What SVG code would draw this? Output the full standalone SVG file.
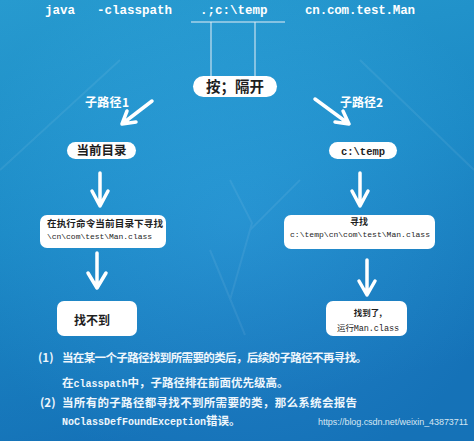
<svg xmlns="http://www.w3.org/2000/svg" width="474" height="441" viewBox="0 0 474 441">
<defs>
<linearGradient id="bg" x1="0" y1="0" x2="0.25" y2="1">
<stop offset="0" stop-color="#29a4dc"/>
<stop offset="0.5" stop-color="#1d92d2"/>
<stop offset="1" stop-color="#1679c3"/>
</linearGradient>
<radialGradient id="glow" cx="0.5" cy="0.5" r="0.6">
<stop offset="0" stop-color="#ffffff" stop-opacity="0.05"/>
<stop offset="1" stop-color="#000000" stop-opacity="0.06"/>
</radialGradient>
</defs>
<style>
.code{font-family:"Liberation Mono","DejaVu Sans Mono",monospace;font-weight:bold;fill:#ffffff}
.cjk{font-family:"Noto Sans CJK SC","Liberation Sans",sans-serif;font-weight:bold}
.lbl{fill:#ffffff;font-size:12px}
.box{fill:#ffffff}
.dark{fill:#1e1e1e}
.mono{font-family:"Liberation Mono","DejaVu Sans Mono","Noto Sans CJK SC",monospace}
.arr{fill:none;stroke:#ffffff;stroke-width:3.5;stroke-linecap:round;stroke-linejoin:round}
.note{font-family:"Noto Sans CJK SC","Liberation Sans",sans-serif;font-weight:bold;fill:#eef6fc;font-size:11.5px}
.nm{font-family:"Liberation Mono","DejaVu Sans Mono",monospace;font-weight:bold;font-size:10px}
.deco{fill:none;stroke:#ffffff;stroke-opacity:0.07;stroke-width:2}
</style>
<rect width="474" height="441" fill="url(#bg)"/>
<rect width="474" height="441" fill="url(#glow)"/>
<g id="background-lines">
<path class="deco" d="M230 180 L252 223 L230 300 M210 250 L245 335 M250 230 L300 180 M120 60 L0 170 M360 60 L474 170"/>
</g>
<g id="command">
<text class="code" x="45" y="14" font-size="12.5">java</text>
<text class="code" x="97" y="14" font-size="12.5">-classpath</text>
<text class="code" x="200" y="14" font-size="12.5">.;c:\temp</text>
<text class="code" x="305" y="14" font-size="12.5" textLength="110">cn.com.test.Man</text>
</g>
<g id="connectors">
<path d="M191 22 H285 M211 22 V76 M255 22 V76" fill="none" stroke="#e6eef5" stroke-width="1"/>
<path class="arr" d="M152 101 L122 124 M136 122 L122 124 L127 111"/>
<path class="arr" d="M315 99 L349 124 M343 111 L349 124 L335 122"/>
<path class="arr" d="M100 173 V206 M92 191 L100 206 L108 191"/>
<path class="arr" d="M360 173 V206 M352 191 L360 206 L368 191"/>
<path class="arr" d="M97 253 V288 M88 273 L97 288 L106 273"/>
<path class="arr" d="M367 260 V295 M359 281 L367 295 L375 281"/>
<text class="cjk lbl" x="85" y="107" textLength="44">子路径1</text>
<text class="cjk lbl" x="340" y="107" textLength="43">子路径2</text>
</g>
<g id="split">
<rect class="box" x="193" y="76" width="84" height="21" rx="10.5"/>
<text class="cjk dark" x="235" y="91.5" font-size="14.5" text-anchor="middle">按；隔开</text>
</g>
<g id="current-dir">
<rect class="box" x="67" y="142" width="69" height="17" rx="8.5"/>
<text class="cjk dark" x="101.5" y="155" font-size="12.5" text-anchor="middle">当前目录</text>
</g>
<g id="temp-dir">
<rect class="box" x="329" y="142" width="68" height="17" rx="8.5"/>
<text class="code dark" x="363" y="154.5" font-size="10.5" text-anchor="middle" style="fill:#1e1e1e">c:\temp</text>
</g>
<g id="search-current">
<rect class="box" x="40" y="215" width="126" height="33" rx="7"/>
<text class="cjk dark" x="47" y="226.5" font-size="9.6" textLength="116">在执行命令当前目录下寻找</text>
<text class="mono dark" x="47" y="239" font-size="8" textLength="105">\cn\com\test\Man.class</text>
</g>
<g id="search-temp">
<rect class="box" x="284" y="215" width="151" height="34" rx="7"/>
<text class="cjk dark" x="359" y="224.5" font-size="9" text-anchor="middle" font-weight="normal">寻找</text>
<text class="mono dark" x="290" y="237" font-size="8" textLength="140">c:\temp\cn\com\test\Man.class</text>
</g>
<g id="not-found">
<rect class="box" x="57" y="301" width="80" height="35" rx="7"/>
<text class="cjk dark" x="92" y="325" font-size="12" text-anchor="middle">找不到</text>
</g>
<g id="found">
<rect class="box" x="326" y="301" width="81" height="35" rx="7"/>
<text class="cjk dark" x="368" y="316" font-size="8.5" text-anchor="middle">找到了,</text>
<text class="mono dark" x="337" y="331" font-size="8.5" textLength="62">运行Man.class</text>
</g>
<g id="notes">
<text class="note" x="38" y="362">(1)</text>
<text class="note" x="62" y="362" textLength="305">当在某一个子路径找到所需要的类后，后续的子路径不再寻找。</text>
<text class="note" x="62" y="387">在<tspan class="nm">classpath</tspan>中，子路径排在前面优先级高。</text>
<text class="note" x="40" y="407">(2)</text>
<text class="note" x="62" y="407" textLength="295">当所有的子路径都寻找不到所需要的类，那么系统会报告</text>
<text class="note" x="62" y="425"><tspan class="nm">NoClassDefFoundException</tspan>错误。</text>
<text x="318" y="425" font-family="Liberation Sans, sans-serif" font-size="9" fill="#d6e6f2" textLength="150">https://blog.csdn.net/weixin_43873711</text>
</g>
</svg>
